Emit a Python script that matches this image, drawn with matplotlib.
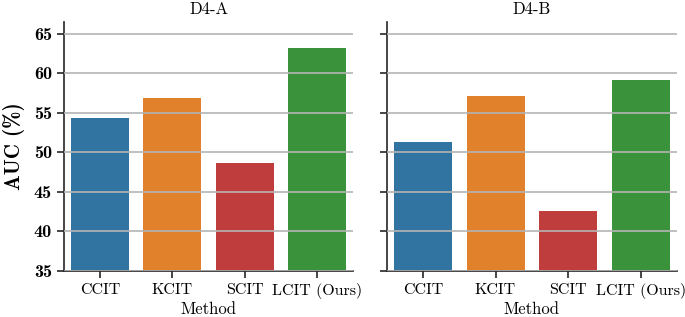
import matplotlib
matplotlib.use("Agg")
import matplotlib.pyplot as plt
import numpy as np

methods = ["CCIT", "KCIT", "SCIT", "LCIT (Ours)"]
auc_d4a = [54.4, 56.9, 48.6, 63.2]
auc_d4b = [51.3, 57.1, 42.6, 59.1]
titles = ["D4-A", "D4-B"]
colors = ["#3274a1", "#e1812c", "#c03d3e", "#3a923a"]
yticks = [35, 40, 45, 50, 55, 60, 65]

plt.rcParams["font.family"] = "serif"
plt.rcParams["font.serif"] = ["cmr10"]
plt.rcParams["mathtext.fontset"] = "cm"
plt.rcParams["axes.formatter.use_mathtext"] = True

fig = plt.figure(figsize=(6.85, 3.17), dpi=100)
ax1 = fig.add_axes([0.0931, 0.145, 0.4228, 0.786])
ax2 = fig.add_axes([0.5645, 0.145, 0.4239, 0.786], sharey=ax1)

x = np.arange(len(methods))
for ax, vals, title in zip([ax1, ax2], [auc_d4a, auc_d4b], titles):
    ax.bar(x, vals, width=0.8, color=colors, zorder=1)
    ax.set_xlim(-0.5, len(methods) - 0.5)
    ax.set_ylim(35, 66.5)
    ax.set_xticks(x)
    ax.set_xticklabels(methods, fontsize=11.5)
    ax.set_yticks(yticks)
    ax.grid(axis="y", color="#b4b4b4", linewidth=1.2, zorder=2)
    ax.set_axisbelow(False)
    ax.spines["top"].set_visible(False)
    ax.spines["right"].set_visible(False)
    for s in ["left", "bottom"]:
        ax.spines[s].set_linewidth(1.2)
        ax.spines[s].set_color("#262626")
    ax.tick_params(axis="both", length=5, width=1.2, color="#262626")
    ax.set_title(title, fontsize=12, pad=6)
    ax.set_xlabel("Method", fontsize=12, labelpad=2)

ax1.set_yticklabels([str(t) for t in yticks], fontfamily="cmb10", fontsize=13)
ax1.set_ylabel("AUC (%)", fontfamily="cmb10", fontsize=15, labelpad=6)
plt.setp(ax2.get_yticklabels(), visible=False)

fig.savefig("out.png", dpi=100)
